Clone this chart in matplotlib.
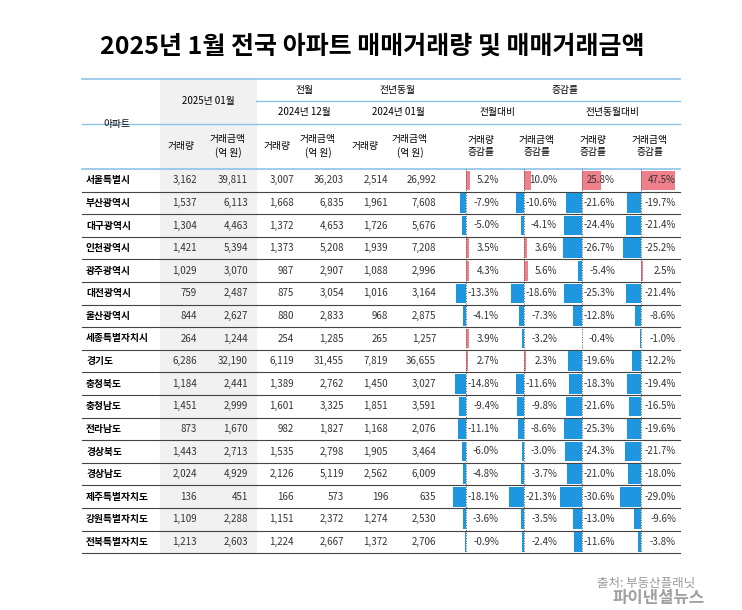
import matplotlib
matplotlib.use('Agg')
import matplotlib.pyplot as plt

plt.rcParams['font.family'] = 'Noto Sans CJK KR'

regions = ['서울특별시', '부산광역시', '대구광역시', '인천광역시', '광주광역시', '대전광역시',
           '울산광역시', '세종특별자치시', '경기도', '충청북도', '충청남도', '전라남도',
           '경상북도', '경상남도', '제주특별자치도', '강원특별자치도', '전북특별자치도']
vol_2501 = [3162, 1537, 1304, 1421, 1029, 759, 844, 264, 6286, 1184, 1451, 873, 1443, 2024, 136, 1109, 1213]
amt_2501 = [39811, 6113, 4463, 5394, 3070, 2487, 2627, 1244, 32190, 2441, 2999, 1670, 2713, 4929, 451, 2288, 2603]
vol_2412 = [3007, 1668, 1372, 1373, 987, 875, 880, 254, 6119, 1389, 1601, 982, 1535, 2126, 166, 1151, 1224]
amt_2412 = [36203, 6835, 4653, 5208, 2907, 3054, 2833, 1285, 31455, 2762, 3325, 1827, 2798, 5119, 573, 2372, 2667]
vol_2401 = [2514, 1961, 1726, 1939, 1088, 1016, 968, 265, 7819, 1450, 1851, 1168, 1905, 2562, 196, 1274, 1372]
amt_2401 = [26992, 7608, 5676, 7208, 2996, 3164, 2875, 1257, 36655, 3027, 3591, 2076, 3464, 6009, 635, 2530, 2706]
mom_vol = [5.2, -7.9, -5.0, 3.5, 4.3, -13.3, -4.1, 3.9, 2.7, -14.8, -9.4, -11.1, -6.0, -4.8, -18.1, -3.6, -0.9]
mom_amt = [10.0, -10.6, -4.1, 3.6, 5.6, -18.6, -7.3, -3.2, 2.3, -11.6, -9.8, -8.6, -3.0, -3.7, -21.3, -3.5, -2.4]
yoy_vol = [25.8, -21.6, -24.4, -26.7, -5.4, -25.3, -12.8, -0.4, -19.6, -18.3, -21.6, -25.3, -24.3, -21.0, -30.6, -13.0, -11.6]
yoy_amt = [47.5, -19.7, -21.4, -25.2, 2.5, -21.4, -8.6, -1.0, -12.2, -19.4, -16.5, -19.6, -21.7, -18.0, -29.0, -9.6, -3.8]

fig = plt.figure(figsize=(7.42, 6.1), dpi=100)
ax = fig.add_axes([0, 0, 1, 1])
ax.set_xlim(0, 742)
ax.set_ylim(610, 0)
ax.axis('off')

fs = 7
blue_line = '#8cc3e8'
ax.text(372, 47, '2025년 1월 전국 아파트 매매거래량 및 매매거래금액', ha='center', va='center',
        fontsize=18, fontweight='bold')

# header
L, R = 82, 680
row0, rh = 169, 22.6
ax.axvspan(160, 256, ymin=1 - (row0 + rh * len(regions)) / 610, ymax=1 - 79 / 610, color='#f1f1f1', zorder=0)
ax.plot([L, R], [79, 79], color=blue_line, lw=1.2)
ax.plot([256, R], [101, 101], color=blue_line, lw=1.0)
ax.plot([L, R], [124, 124], color=blue_line, lw=1.0)
ax.plot([L, R], [row0, row0], color=blue_line, lw=1.2)

ax.text(117, 124, '아파트', ha='center', va='center', fontsize=fs)
ax.text(208, 101, '2025년 01월', ha='center', va='center', fontsize=fs)
ax.text(304, 90, '전월', ha='center', va='center', fontsize=fs)
ax.text(398, 90, '전년동월', ha='center', va='center', fontsize=fs)
ax.text(565, 90, '증감률', ha='center', va='center', fontsize=fs)
ax.text(304, 112, '2024년 12월', ha='center', va='center', fontsize=fs)
ax.text(398, 112, '2024년 01월', ha='center', va='center', fontsize=fs)
ax.text(497, 112, '전월대비', ha='center', va='center', fontsize=fs)
ax.text(613, 112, '전년동월대비', ha='center', va='center', fontsize=fs)

sub_x = [181, 228, 277, 318, 365, 410, 481, 537, 593, 650]
sub_t = ['거래량', '거래금액\n(억 원)', '거래량', '거래금액\n(억 원)', '거래량', '거래금액\n(억 원)',
         '거래량\n증감률', '거래금액\n증감률', '거래량\n증감률', '거래금액\n증감률']
for x, t in zip(sub_x, sub_t):
    ax.text(x, 146, t, ha='center', va='center', fontsize=fs, linespacing=1.3)

# body
num_cols = [vol_2501, amt_2501, vol_2412, amt_2412, vol_2401, amt_2401]
num_right = [197, 248, 294, 344, 388, 436]
pct_cols = [mom_vol, mom_amt, yoy_vol, yoy_amt]
zero_x = [466, 524, 582, 641]
pct_right = [499, 557, 615, 676]
scale = 0.72
ys = [row0 + rh * (i + 0.5) for i in range(len(regions))]
bottom = row0 + rh * len(regions)

for i, name in enumerate(regions):
    y = ys[i]
    ax.text(86, y, name, ha='left', va='center', fontsize=fs, fontweight='bold')
    for col, xr in zip(num_cols, num_right):
        ax.text(xr, y, f'{col[i]:,}', ha='right', va='center', fontsize=fs, color='#333333')
    for col, xr in zip(pct_cols, pct_right):
        ax.text(xr, y, f'{col[i]:.1f}%', ha='right', va='center', fontsize=fs, color='#333333', zorder=3)
    ax.plot([L, R], [row0 + rh * (i + 1)] * 2, color='#444444', lw=0.8)

for col, z in zip(pct_cols, zero_x):
    vals = [v * scale for v in col]
    colors = ['#f07f8c' if v > 0 else '#1e96e0' for v in col]
    ax.barh(ys, vals, height=rh - 3, left=z, color=colors, zorder=2)
    ax.plot([z, z], [row0, bottom], color='#555555', lw=0.7, ls=':', zorder=2.5)

ax.text(695, 583, '출처: 부동산플래닛', ha='right', va='center', fontsize=9, color='#999999')
ax.text(705, 598, '파이낸셜뉴스', ha='right', va='center', fontsize=12, color='#888888',
        fontweight='bold', alpha=0.8)

fig.savefig('out.png', dpi=100)
